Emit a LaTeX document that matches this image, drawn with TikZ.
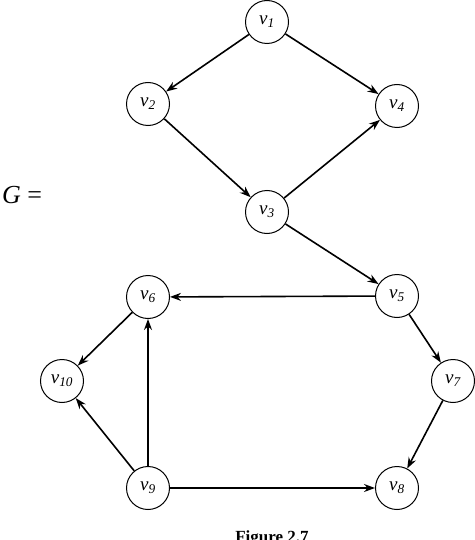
\documentclass[tikz,border=0pt]{standalone}
\usepackage{fontspec}
\setmainfont{Liberation Serif}
\usetikzlibrary{arrows.meta}
\begin{document}
\begin{tikzpicture}[x=1pt,y=-1pt,
  vtx/.style={circle,draw,line width=1pt,minimum size=43pt,inner sep=0pt,font=\fontsize{19}{21}\selectfont\itshape},
  edge/.style={line width=1.6pt,-{Stealth[length=11pt,width=8pt]}}]
\useasboundingbox (0,0) rectangle (474,540);
\node[vtx] (v1) at (267,22) {v\textsubscript{1}};
\node[vtx] (v2) at (148,104) {v\textsubscript{2}};
\node[vtx] (v4) at (397,106) {v\textsubscript{4}};
\node[vtx] (v3) at (267,212) {v\textsubscript{3}};
\node[vtx] (v5) at (397,296) {v\textsubscript{5}};
\node[vtx] (v6) at (148,297) {v\textsubscript{6}};
\node[vtx] (v10) at (62,381) {v\textsubscript{10}};
\node[vtx] (v7) at (453,381) {v\textsubscript{7}};
\node[vtx] (v9) at (148,488) {v\textsubscript{9}};
\node[vtx] (v8) at (397,488) {v\textsubscript{8}};
\node[font=\fontsize{26}{28}\selectfont] (G) at (22,195) {\textit{G} =};
\node[font=\fontsize{17}{19}\selectfont\bfseries,anchor=base] (cap) at (272,542) {Figure 2.7};
\draw[edge] (v1) -- (v2);
\draw[edge] (v1) -- (v4);
\draw[edge] (v2) -- (v3);
\draw[edge] (v3) -- (v4);
\draw[edge] (v3) -- (v5);
\draw[edge] (v5) -- (v6);
\draw[edge] (v5) -- (v7);
\draw[edge] (v7) -- (v8);
\draw[edge] (v6) -- (v10);
\draw[edge] (v9) -- (v10);
\draw[edge] (v9) -- (v6);
\draw[edge] (v9) -- (v8);
\end{tikzpicture}
\end{document}
